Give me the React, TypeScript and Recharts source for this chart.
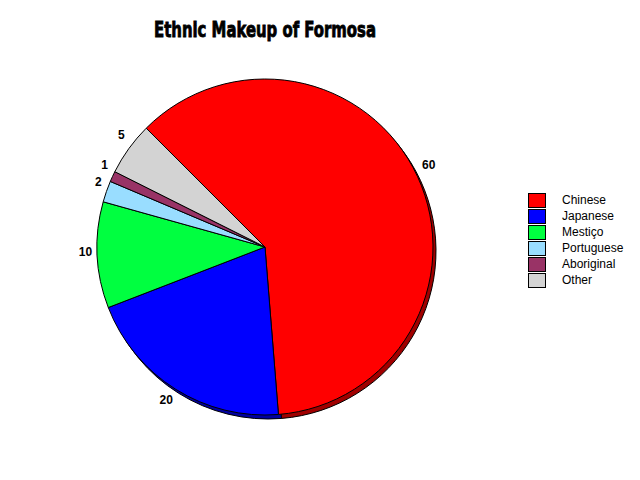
import React from 'react';
import { PieChart, Pie, Cell, Legend } from 'recharts';

const categories = ['Chinese', 'Japanese', 'Mestiço', 'Portuguese', 'Aboriginal', 'Other'];
const values = [60, 20, 10, 2, 1, 5];
const colors = ['#FF0000', '#0000FF', '#00FF40', '#99DDFF', '#993366', '#D3D3D3'];
const shadowColors = ['#A00000', '#0000A0', '#00A02A', '#608CA0', '#602040', '#858585'];

const data = categories.map((name, i) => ({ name, value: values[i] }));

const RAD = Math.PI / 180;

const renderLabel = (props: any) => {
  const { cx, cy, midAngle, outerRadius, value } = props;
  const c = Math.cos(-midAngle * RAD);
  const s = Math.sin(-midAngle * RAD);
  const x = cx + (outerRadius + 5) * c;
  const y = cy + (outerRadius + 17) * s - 4;
  return (
    <text
      x={x}
      y={y}
      textAnchor={c >= 0 ? 'start' : 'end'}
      dominantBaseline="central"
      fontFamily="'Liberation Sans', Arial, sans-serif"
      fontWeight="bold"
      fontSize={12}
      fill="#000"
    >
      {value}
    </text>
  );
};

const renderLegend = () => (
  <div style={{ fontFamily: "'Liberation Sans', Arial, sans-serif", fontSize: 12, color: '#000' }}>
    {categories.map((name, i) => (
      <div key={name} style={{ display: 'flex', alignItems: 'center', height: 16 }}>
        <div
          style={{
            width: 16,
            height: 13,
            background: colors[i],
            border: '1px solid #000',
            marginRight: 16,
          }}
        />
        <span>{name}</span>
      </div>
    ))}
  </div>
);

export default function App() {
  return (
    <div style={{ position: 'absolute', left: 0, top: 0, width: 640, height: 480, background: '#fff' }}>
      <PieChart width={640} height={480} margin={{ top: 0, right: 0, bottom: 0, left: 0 }}>
        <text
          x={265}
          y={37}
          textAnchor="middle"
          fontFamily="'DejaVu Sans Condensed', 'DejaVu Sans', sans-serif"
          fontWeight="bold"
          fontSize={21}
          textLength={222}
          lengthAdjust="spacingAndGlyphs"
          fill="#000"
          stroke="#000"
          strokeWidth={0.8}
        >
          Ethnic Makeup of Formosa
        </text>
        <Pie
          data={data}
          dataKey="value"
          nameKey="name"
          cx={268}
          cy={251}
          outerRadius={168}
          startAngle={135}
          endAngle={-225}
          stroke="#000"
          strokeWidth={1}
          isAnimationActive={false}
          label={false}
          labelLine={false}
          legendType="none"
        >
          {data.map((d, i) => (
            <Cell key={d.name} fill={shadowColors[i]} />
          ))}
        </Pie>
        <Pie
          data={data}
          dataKey="value"
          nameKey="name"
          cx={265}
          cy={247}
          outerRadius={168}
          startAngle={135}
          endAngle={-225}
          stroke="#000"
          strokeWidth={1}
          isAnimationActive={false}
          label={renderLabel}
          labelLine={false}
        >
          {data.map((d, i) => (
            <Cell key={d.name} fill={colors[i]} />
          ))}
        </Pie>
        <Legend
          content={renderLegend}
          wrapperStyle={{ position: 'absolute', left: 528, top: 192, width: 110 }}
        />
      </PieChart>
    </div>
  );
}
